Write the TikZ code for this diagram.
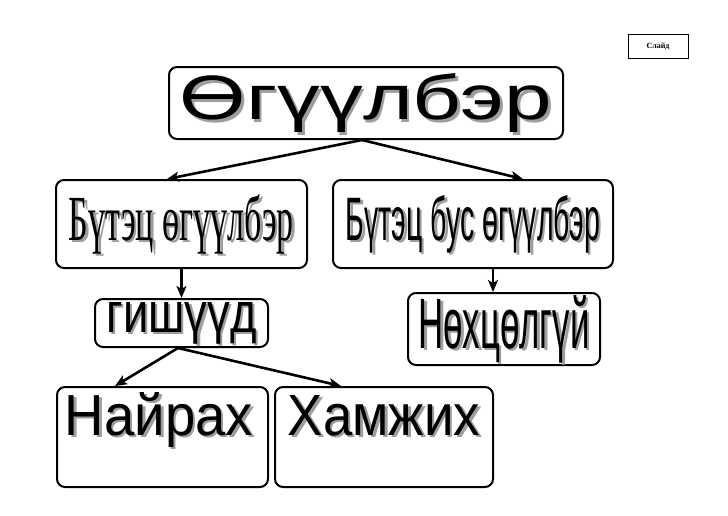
\documentclass[tikz,border=0pt]{standalone}
\usepackage{fontspec}
\usepackage{graphicx}
\setmainfont{Liberation Serif}
\newfontfamily\sansf{Liberation Sans}
\newfontfamily\seriff{Liberation Serif}
\usetikzlibrary{arrows.meta,calc}
\definecolor{shd}{gray}{0.62}
\newcommand\wat[3]{\makebox[0pt][l]{\smash{\hspace*{2.5pt}\raisebox{-2.5pt}{\color{shd}\resizebox{#1}{#2}{#3}}}}\resizebox{#1}{#2}{#3}}
\begin{document}
\begin{tikzpicture}[x=1pt,y=-1pt,
  box/.style={draw=black, line width=2pt, rounded corners=8pt, inner sep=0pt, fill=white},
  txt/.style={inner sep=0pt},
  conn/.style={line width=2.6pt, -{Stealth[length=12pt,width=10pt,inset=3pt]}}]
\useasboundingbox[fill=white] (0,0) rectangle (728,515);
% boxes
\node[box, minimum width=394pt, minimum height=72pt] (top) at (366,103) {\wat{372pt}{46pt}{\sansf Өгүүлбэр}};
\node[box, minimum width=251pt, minimum height=88pt] (b2) at (181.5,224) {\wat{225pt}{46pt}{\seriff Бүтэц өгүүлбэр}};
\node[box, minimum width=280pt, minimum height=88pt] (b3) at (473,224) {\wat{254pt}{45pt}{\sansf Бүтэц бус өгүүлбэр}};
\node[box, minimum width=173pt, minimum height=48pt] (b4) at (181.5,323) {\wat{150pt}{30pt}{\sansf гишүүд}};
\node[box, minimum width=192pt, minimum height=72pt] (b5) at (504,329) {\wat{171pt}{53pt}{\sansf Нөхцөлгүй}};
\node[box, minimum width=211pt, minimum height=100pt] (b6) at (162.5,437) {};
\node[box, minimum width=218pt, minimum height=100pt] (b7) at (384,437) {};
\node[txt, anchor=base] (t6) at (159,435) {\wat{188pt}{43pt}{\sansf Найрах}};
\node[txt, anchor=base] (t7) at (384,435) {\wat{192pt}{40pt}{\sansf Хамжих}};
\node[draw=black, line width=0.8pt, minimum width=60pt, minimum height=24pt, inner sep=0pt] (slide) at (658,46) {\fontsize{8}{9}\selectfont\bfseries Слайд};
% connectors
\draw[conn] ($(top.south)+(-4,0)$) -- ($(b2.north)+(-14.5,0)$);
\draw[conn] ($(top.south)+(-4,0)$) -- ($(b3.north)+(50,0)$);
\draw[conn] (b2.south) -- (b4.north);
\draw[conn] ($(b3.south)+(20,0)$) -- ($(b5.north)+(-11,0)$);
\draw[conn] ($(b4.south)+(-3.5,0)$) -- ($(b6.north)+(-47.5,0)$);
\draw[conn] ($(b4.south)+(-3.5,0)$) -- ($(b7.north)+(-43,0)$);
\end{tikzpicture}
\end{document}
